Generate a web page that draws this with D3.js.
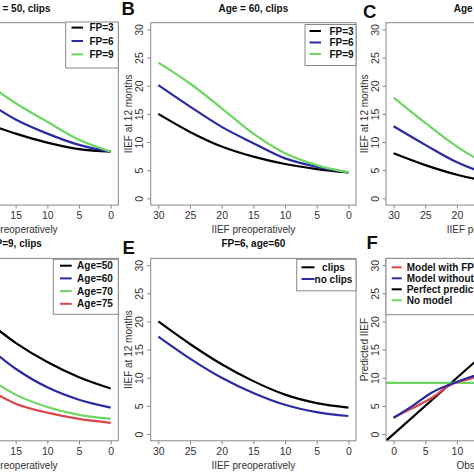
<!DOCTYPE html>
<html>
<head>
<meta charset="utf-8">
<script src="https://cdn.jsdelivr.net/npm/d3@7"></script>
<style>
body { margin: 0; background: #fff; }
svg { display: block; font-family: "Liberation Sans", Arial, Helvetica, sans-serif; }
</style>
</head>
<body>
<svg width="474" height="474"></svg>
<script>
// x values (IIEF preoperatively) and ticks
const preIIEF = [30, 25, 20, 15, 10, 5, 0];
const axisTicks = [0, 5, 10, 15, 20, 25, 30];

// A: Age = 50, clips
const a50fp3 = [20.1, 16.5, 13.5, 11.5, 9.9, 8.75, 8.3];
const a50fp6 = [26.0, 21.6, 17.5, 14.0, 11.5, 9.5, 8.3];
const a50fp9 = [29.5, 25.0, 20.8, 16.9, 13.6, 10.4, 8.3];
// B: Age = 60, clips
const a60fp3 = [15.0, 11.8, 9.2, 7.4, 6.1, 5.2, 4.6];
const a60fp6 = [20.1, 16.3, 12.7, 9.8, 7.1, 5.6, 4.6];
const a60fp9 = [24.1, 20.4, 16.0, 11.5, 8.0, 5.9, 4.6];
// C: Age = 75, clips
const a75fp3 = [8.0, 5.9, 4.2, 3.0, 2.4, 2.1, 2.0];
const a75fp6 = [12.8, 9.5, 6.4, 4.3, 3.0, 2.3, 2.0];
const a75fp9 = [17.9, 13.4, 9.2, 5.9, 3.8, 2.7, 2.0];
// D: FP=9, clips
const fp9age50 = [29.5, 25.0, 20.5, 16.2, 12.8, 10.1, 8.1];
const fp9age60 = [24.1, 20.4, 16.0, 11.6, 8.3, 6.1, 4.7];
const fp9age70 = [20.5, 15.5, 10.6, 7.0, 4.8, 3.4, 2.7];
const fp9age75 = [17.9, 13.2, 8.5, 5.4, 3.8, 2.7, 2.0];
// E: FP=6, age=60
const fp6clips = [20.0, 16.0, 12.4, 9.4, 7.0, 5.5, 4.7];
const fp6noClips = [17.3, 13.4, 10.0, 7.3, 5.2, 3.9, 3.2];
// F: observed vs predicted
const observedIIEF = [0, 3, 6, 9, 12, 15];
const modelWithFP = [2.9, 4.6, 6.4, 8.75, 9.8, 10.9];
const modelWithoutFP = [2.9, 5.0, 7.35, 8.85, 10.1, 11.1];
const noModelLevel = 9.1;

const fpLabels = ["FP=3", "FP=6", "FP=9"];
const ageLabels = ["Age=50", "Age=60", "Age=70", "Age=75"];
const clipLabels = ["clips", "no clips"];
const fLabels = ["Model with FP", "Model without FP", "Perfect prediction", "No model"];

const BLACK = "#000", BLUE = "#2a2aa3", GREEN = "#6dd660", RED = "#d9474a";
const BOXC = "#888";

const svg = d3.select("svg");
const colLeft = [-87, 150.7, 386], rowTop = [22.7, 258.4];
const boxW = 205.3, boxH = 182.4;

function drawPanel(p) {
  const left = colLeft[p.col], top = rowTop[p.row];
  const g = svg.append("g");
  const x = d3.scaleLinear()
    .domain(p.flip ? [31.2, -1.2] : [-1.2, 31.2])
    .range([left, left + boxW]);
  const y = d3.scaleLinear().domain([-1.2, 31.2]).range([top + boxH, top]);

  const clipId = "clip" + p.col + p.row;
  svg.append("clipPath").attr("id", clipId).append("rect")
    .attr("x", left).attr("y", top).attr("width", boxW).attr("height", boxH);

  // x axis
  const gx = g.append("g").attr("transform", `translate(0,${top + boxH})`)
    .call(d3.axisBottom(x).tickValues(axisTicks).tickSize(3.5).tickSizeOuter(0).tickPadding(3.3));
  gx.select(".domain").remove();
  gx.selectAll("line").attr("stroke", BOXC);
  gx.selectAll("text").attr("font-size", 10.5).attr("fill", "#333").attr("font-family", null);

  // y axis, labels parallel to axis
  const gy = g.append("g").attr("transform", `translate(${left},0)`)
    .call(d3.axisLeft(y).tickValues(axisTicks).tickSize(3.5).tickSizeOuter(0));
  gy.select(".domain").remove();
  gy.selectAll("line").attr("stroke", BOXC);
  gy.selectAll("text")
    .attr("x", null).attr("dy", null).attr("font-size", 10.5).attr("fill", "#333")
    .attr("font-family", null).attr("text-anchor", "middle")
    .attr("transform", "translate(-7.3,0) rotate(-90)");

  // titles
  g.append("text").attr("x", left + boxW / 2).attr("y", top - 11)
    .attr("text-anchor", "middle").attr("font-size", 10).attr("font-weight", "bold")
    .attr("fill", "#111").text(p.title);
  g.append("text").attr("x", left + boxW / 2).attr("y", top + boxH + 27.8)
    .attr("text-anchor", "middle").attr("font-size", 10).attr("fill", "#333").text(p.xLabel);
  g.append("text")
    .attr("transform", `translate(${left - 18.5},${top + boxH / 2}) rotate(-90)`)
    .attr("text-anchor", "middle").attr("font-size", 10).attr("fill", "#333").text(p.yLabel);

  // marks
  const plot = g.append("g").attr("clip-path", `url(#${clipId})`);
  if (p.extra) p.extra(plot, x, y);
  p.series.forEach(s => {
    const line = d3.line()
      .x((d, i) => x(s.xs[i]))
      .y(d => y(d))
      .curve(d3.curveCatmullRom.alpha(0.5));
    plot.append("path").datum(s.values)
      .attr("fill", "none").attr("stroke", s.color).attr("stroke-width", 2.2)
      .attr("d", line);
  });

  // box
  g.append("rect").attr("x", left).attr("y", top).attr("width", boxW).attr("height", boxH)
    .attr("fill", "none").attr("stroke", BOXC).attr("stroke-width", 1);

  // legend
  const L = p.legend;
  const lg = g.append("g");
  lg.append("rect").attr("x", L.x).attr("y", L.y).attr("width", L.w).attr("height", L.h)
    .attr("fill", "#fff").attr("stroke", BOXC);
  L.items.forEach((it, i) => {
    const cy = L.row0 + i * L.gap;
    lg.append("line").attr("x1", L.lx0).attr("x2", L.lx1).attr("y1", cy).attr("y2", cy)
      .attr("stroke", it.color).attr("stroke-width", 2);
    lg.append("text").attr("x", L.tx).attr("y", cy).attr("dy", "0.36em")
      .attr("text-anchor", L.anchor).attr("font-size", 10).attr("font-weight", "bold")
      .attr("fill", "#111").text(it.label);
  });

  // panel letter
  if (p.letter) {
    svg.append("text").attr("x", p.letter[1]).attr("y", p.letter[2])
      .attr("font-size", 18.5).attr("font-weight", "bold").attr("fill", "#111")
      .text(p.letter[0]);
  }
}

const pre = (values, color) => ({ xs: preIIEF, values, color });
const xLab = "IIEF preoperatively", yLab = "IIEF at 12 months";

drawPanel({
  col: 0, row: 0, flip: true, title: "Age = 50, clips", xLabel: xLab, yLabel: yLab,
  series: [pre(a50fp3, BLACK), pre(a50fp6, BLUE), pre(a50fp9, GREEN)],
  legend: { x: 65.7, y: 22, w: 52.6, h: 46, row0: 27.6, gap: 13.4, lx0: 71.5, lx1: 83, tx: 101.5, anchor: "middle",
    items: fpLabels.map((l, i) => ({ label: l, color: [BLACK, BLUE, GREEN][i] })) },
  letter: null
});

drawPanel({
  col: 1, row: 0, flip: true, title: "Age = 60, clips", xLabel: xLab, yLabel: yLab,
  series: [pre(a60fp3, BLACK), pre(a60fp6, BLUE), pre(a60fp9, GREEN)],
  legend: { x: 305, y: 24.5, w: 51, h: 41, row0: 31, gap: 11.5, lx0: 309.5, lx1: 321, tx: 341.5, anchor: "middle",
    items: fpLabels.map((l, i) => ({ label: l, color: [BLACK, BLUE, GREEN][i] })) },
  letter: ["B", 121.5, 15]
});

drawPanel({
  col: 2, row: 0, flip: true, title: "Age = 75, clips", xLabel: xLab, yLabel: yLab,
  series: [pre(a75fp3, BLACK), pre(a75fp6, BLUE), pre(a75fp9, GREEN)],
  legend: { x: 540, y: 24.5, w: 51, h: 41, row0: 31, gap: 11.5, lx0: 545, lx1: 556, tx: 577, anchor: "middle",
    items: fpLabels.map((l, i) => ({ label: l, color: [BLACK, BLUE, GREEN][i] })) },
  letter: ["C", 363, 18]
});

drawPanel({
  col: 0, row: 1, flip: true, title: "FP=9, clips", xLabel: xLab, yLabel: yLab,
  series: [pre(fp9age50, BLACK), pre(fp9age60, BLUE), pre(fp9age70, GREEN), pre(fp9age75, RED)],
  legend: { x: 53.3, y: 259.3, w: 65, h: 55, row0: 265.7, gap: 12.7, lx0: 60, lx1: 71.7, tx: 95, anchor: "middle",
    items: ageLabels.map((l, i) => ({ label: l, color: [BLACK, BLUE, GREEN, RED][i] })) },
  letter: null
});

drawPanel({
  col: 1, row: 1, flip: true, title: "FP=6, age=60", xLabel: xLab, yLabel: yLab,
  series: [pre(fp6clips, BLACK), pre(fp6noClips, BLUE)],
  legend: { x: 296.7, y: 259.3, w: 59.3, h: 31.5, row0: 267.3, gap: 11.7, lx0: 301.5, lx1: 314.5, tx: 333.5, anchor: "middle",
    items: clipLabels.map((l, i) => ({ label: l, color: [BLACK, BLUE][i] })) },
  letter: ["E", 122.5, 254]
});

drawPanel({
  col: 2, row: 1, flip: false, title: "", xLabel: "Observed IIEF", yLabel: "Predicted IIEF",
  extra: (plot, x, y) => {
    const ends = x.domain();
    // perfect prediction, y = x
    plot.append("line").attr("x1", x(ends[0])).attr("y1", y(ends[0]))
      .attr("x2", x(ends[1])).attr("y2", y(ends[1]))
      .attr("stroke", BLACK).attr("stroke-width", 2.2);
    // no model
    plot.append("line").attr("x1", x(ends[0])).attr("x2", x(ends[1]))
      .attr("y1", y(noModelLevel)).attr("y2", y(noModelLevel))
      .attr("stroke", GREEN).attr("stroke-width", 2.2);
  },
  series: [
    { xs: observedIIEF, values: modelWithFP, color: RED },
    { xs: observedIIEF, values: modelWithoutFP, color: BLUE }
  ],
  legend: { x: 386, y: 258.4, w: 205.3, h: 56.3, row0: 267.3, gap: 11, lx0: 391.7, lx1: 401.7, tx: 406.7, anchor: "start",
    items: fLabels.map((l, i) => ({ label: l, color: [RED, BLUE, BLACK, GREEN][i] })) },
  letter: ["F", 366.5, 249]
});
</script>
</body>
</html>
